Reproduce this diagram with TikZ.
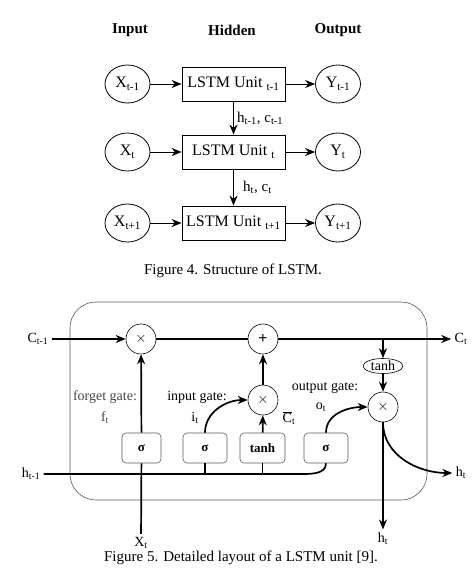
\documentclass[tikz,border=0pt]{standalone}
\usepackage{fontspec}
\setmainfont{Liberation Serif}
\usetikzlibrary{arrows.meta,shapes.geometric,positioning}
\definecolor{GrisMarco}{RGB}{90,90,90}
\definecolor{GrisTexto}{RGB}{70,70,70}

\begin{document}
\begin{tikzpicture}[x=1pt,y=-1pt,>={Stealth[length=10pt,width=8pt]},
  font=\fontsize{14}{16}\selectfont,
  unidad/.style={draw,thick,minimum width=45pt,minimum height=38pt,ellipse,inner sep=0pt,font=\fontsize{16}{18}\selectfont},
  celda/.style={draw,thick,minimum width=103pt,minimum height=34pt,font=\fontsize{16}{18}\selectfont},
  oper/.style={draw,semithick,circle,minimum size=30pt,inner sep=0pt},
  capa/.style={draw=GrisMarco,semithick,rounded corners=4pt,minimum height=30pt,font=\fontsize{13}{15}\selectfont\bfseries},
  flujo/.style={line width=1.7pt}]
  \useasboundingbox (0,0) rectangle (474,568);

  % --- Figure 4 ---
  \node[font=\fontsize{15}{17}\selectfont\bfseries] at (130,30) {Input};
  \node[font=\fontsize{15}{17}\selectfont\bfseries] at (232,30) {Hidden};
  \node[font=\fontsize{15}{17}\selectfont\bfseries] at (338,30) {Output};
  \foreach \fila/\sub/\yy in {1/t-1/84,2/t/152,3/t+1/223} {
    \node[unidad] (x\fila) at (127.5,\yy) {X\textsubscript{\sub}};
    \node[celda] (u\fila) at (233.5,\yy) {LSTM Unit \textsubscript{\sub}};
    \node[unidad] (y\fila) at (338,\yy) {Y\textsubscript{\sub}};
    \draw[->,thick] (x\fila) -- (u\fila);
    \draw[->,thick] (u\fila) -- (y\fila);
  }
  \draw[->,thick] (u1) -- (u2) node[midway,right,font=\fontsize{15}{17}\selectfont] {h\textsubscript{t-1}, c\textsubscript{t-1}};
  \draw[->,thick] (u2) -- (u3) node[midway,right,xshift=6pt,font=\fontsize{15}{17}\selectfont] {h\textsubscript{t}, c\textsubscript{t}};
  \node[font=\fontsize{15}{17}\selectfont] (cap4) at (233,271) {Figure 4. Structure of LSTM.};

  % --- Figure 5 ---
  \draw[GrisMarco,semithick,rounded corners=26pt] (70,302) rectangle (427,500);
  \node (cprev) at (38,339) {C\textsubscript{t-1}};
  \node (cnext) at (461,339) {C\textsubscript{t}};
  \node (hprev) at (31,474) {h\textsubscript{t-1}};
  \node (hnext) at (461,473) {h\textsubscript{t}};
  \node (hdown) at (383,539) {h\textsubscript{t}};
  \node (xt) at (141,543) {X\textsubscript{t}};
  \node[oper] (mulf) at (141,339) {$\times$};
  \node[oper,font=\fontsize{16}{18}\selectfont\bfseries] (suma) at (263,339) {+};
  \node[oper] (muli) at (263,400) {$\times$};
  \node[oper] (mulo) at (383,407) {$\times$};
  \node[draw,semithick,ellipse,minimum width=40pt,minimum height=15pt,inner sep=0pt] (tanhc) at (383,366) {tanh};
  \node[capa,minimum width=39pt] (sigf) at (141.5,448) {σ};
  \node[capa,minimum width=44pt] (sigi) at (205,448) {σ};
  \node[capa,minimum width=45pt] (tanhb) at (262.5,448) {tanh};
  \node[capa,minimum width=44pt] (sigo) at (326,448) {σ};
  \node[GrisTexto] (lforget) at (105,397) {forget gate:};
  \node[GrisTexto] (lf) at (105,418) {f\textsubscript{t}};
  \node (linput) at (197,397) {input gate:};
  \node (li) at (195,418) {i\textsubscript{t}};
  \node (lct) at (289,418) {$\overline{\mbox{C}}$\textsubscript{t}};
  \node (loutput) at (325,388) {output gate:};
  \node (lo) at (321,407) {o\textsubscript{t}};
  \coordinate (codo) at (300,474);

  \draw[flujo,->] (cprev) -- (mulf);
  \draw[flujo] (mulf) -- (suma);
  \draw[flujo,->] (suma) -- (cnext);
  \draw[flujo] (xt) -- (sigf);
  \draw[flujo,->] (sigf) -- (mulf);
  \draw[flujo] (hprev) -- (codo) to[out=0,in=-90] (sigo.south);
  \draw[flujo] (sigi.south) -- (sigi.south |- codo);
  \draw[flujo] (tanhb.south) -- (tanhb.south |- codo);
  \draw[flujo,->] (sigi.north) to[out=90,in=180] (muli.west);
  \draw[flujo,->] (tanhb) -- (muli);
  \draw[flujo,->] (muli) -- (suma);
  \draw[flujo,->] (sigo.north) to[out=90,in=180] (mulo.west);
  \draw[flujo,->] (tanhc |- suma) -- (tanhc);
  \draw[flujo,->] (tanhc) -- (mulo);
  \draw[flujo,->] (mulo) -- (hdown);
  \draw[flujo,->] (mulo.south) to[out=-90,in=180] (hnext);
  \node[font=\fontsize{15}{17}\selectfont] (cap5) at (241,558) {Figure 5. Detailed layout of a LSTM unit [9].};
\end{tikzpicture}
\end{document}
